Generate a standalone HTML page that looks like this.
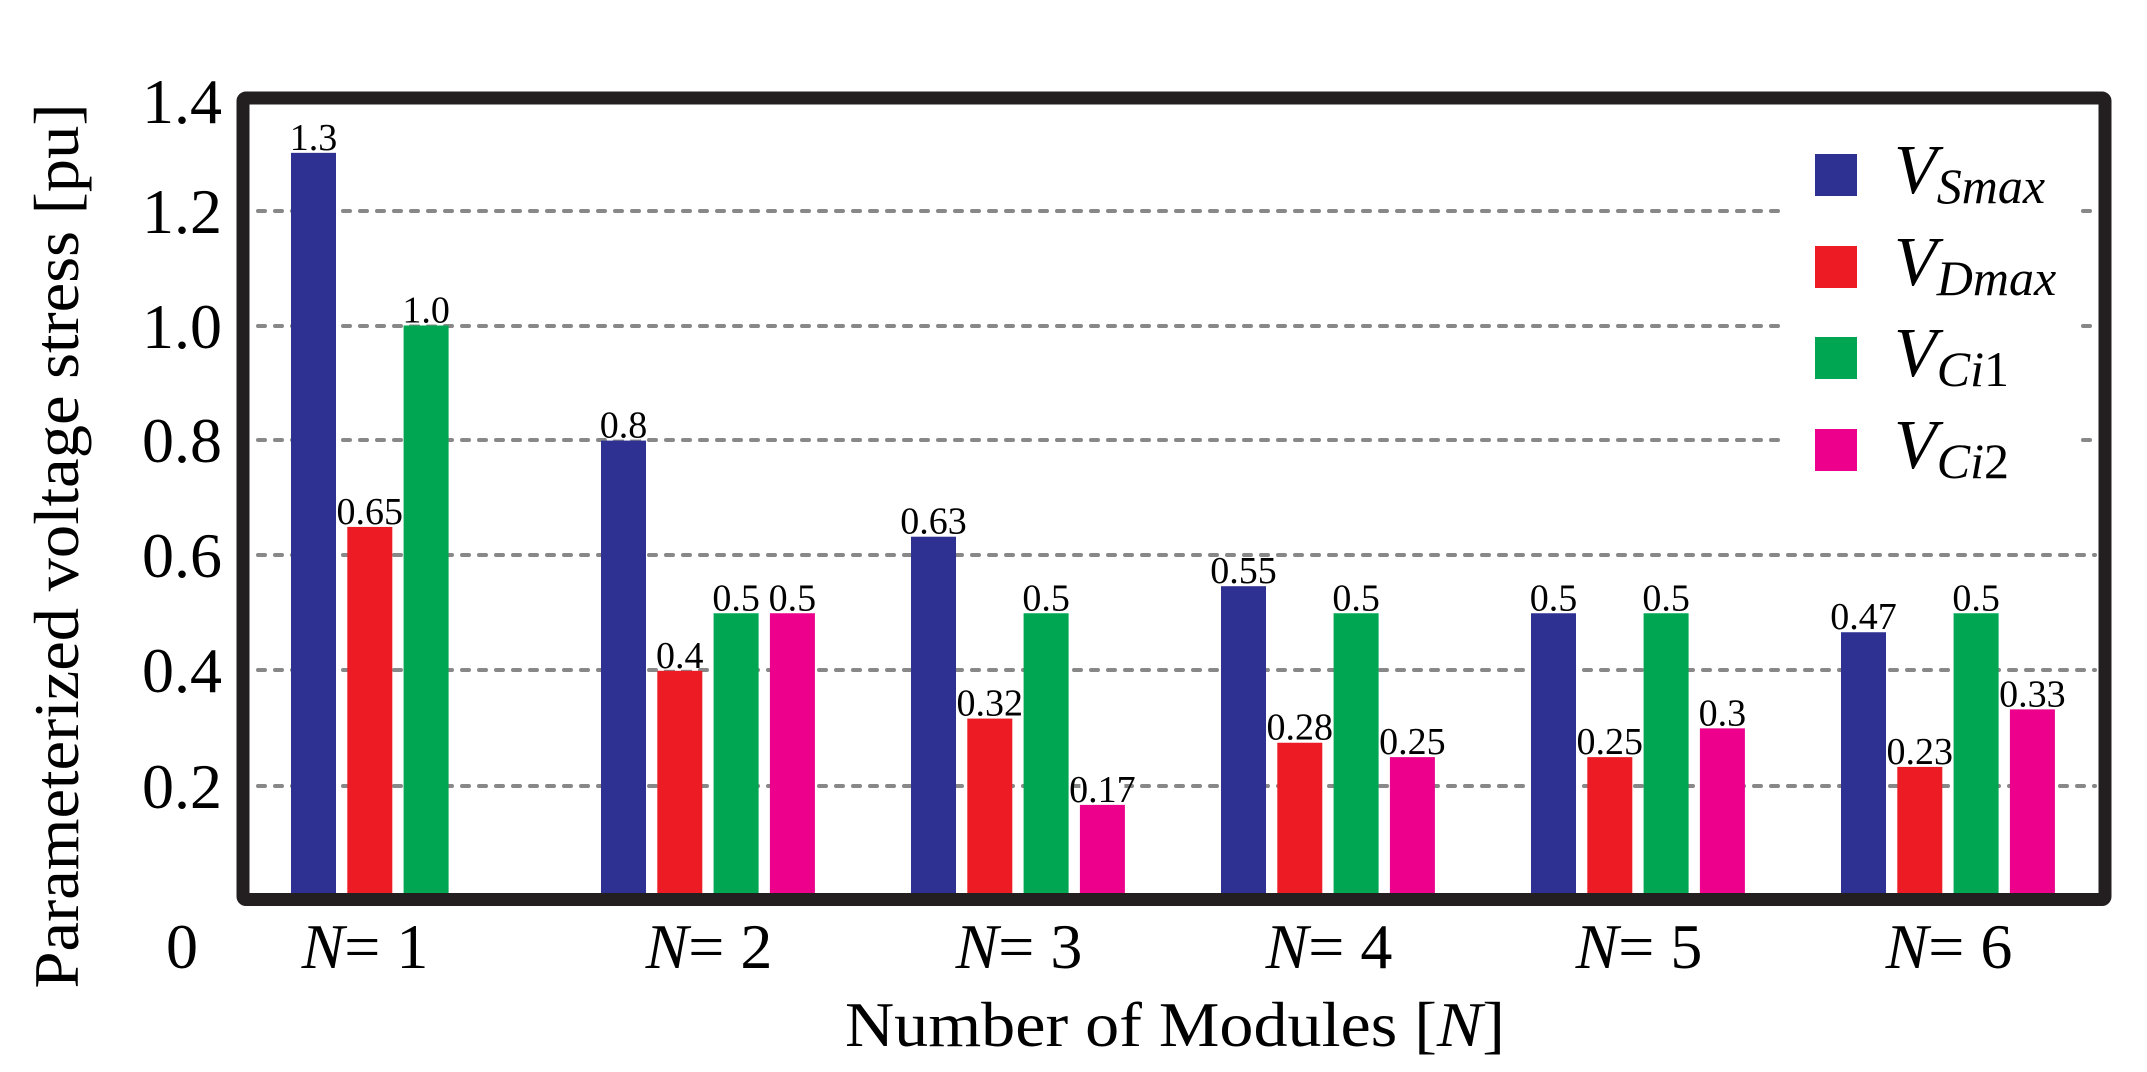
<!DOCTYPE html>
<html><head><meta charset="utf-8"><style>html,body{margin:0;padding:0;background:#fff}svg{display:block}</style></head>
<body>
<svg width="2147" height="1072" viewBox="0 0 2147 1072" xmlns="http://www.w3.org/2000/svg" font-family="Liberation Serif, serif">
<rect width="2147" height="1072" fill="#fff"/>
<g stroke="#888" stroke-width="4" stroke-dasharray="7 10" stroke-linecap="round">
<line x1="258" y1="786" x2="2095" y2="786"/>
<line x1="258" y1="670" x2="2095" y2="670"/>
<line x1="258" y1="555" x2="2095" y2="555"/>
<line x1="258" y1="440" x2="1788" y2="440"/><line x1="2083" y1="440" x2="2095" y2="440"/>
<line x1="258" y1="326" x2="1788" y2="326"/><line x1="2083" y1="326" x2="2095" y2="326"/>
<line x1="258" y1="211" x2="1788" y2="211"/><line x1="2083" y1="211" x2="2095" y2="211"/>
</g>
<g id="bars"></g>
<g font-size="38" text-anchor="middle" id="vl"></g>
<rect x="243" y="98" width="1862" height="801.5" fill="none" stroke="#231F20" stroke-width="13" rx="3"/>
<g font-size="64" text-anchor="end">
<text x="222" y="123">1.4</text><text x="222" y="233">1.2</text><text x="222" y="348">1.0</text>
<text x="222" y="462">0.8</text><text x="222" y="577">0.6</text><text x="222" y="692">0.4</text><text x="222" y="808">0.2</text>
</g>
<text x="182" y="968" font-size="64" text-anchor="middle">0</text>
<g font-size="64" text-anchor="middle">
<text x="365" y="968"><tspan font-style="italic">N</tspan>= 1</text>
<text x="709" y="968"><tspan font-style="italic">N</tspan>= 2</text>
<text x="1019" y="968"><tspan font-style="italic">N</tspan>= 3</text>
<text x="1329" y="968"><tspan font-style="italic">N</tspan>= 4</text>
<text x="1639" y="968"><tspan font-style="italic">N</tspan>= 5</text>
<text x="1949" y="968"><tspan font-style="italic">N</tspan>= 6</text>
</g>
<text x="1175" y="1046" font-size="64" text-anchor="middle" textLength="660" lengthAdjust="spacingAndGlyphs">Number of Modules [<tspan font-style="italic">N</tspan>]</text>
<text transform="translate(78,546) rotate(-90)" font-size="64" text-anchor="middle" textLength="885" lengthAdjust="spacingAndGlyphs">Parameterized voltage stress [pu]</text>
<g>
<rect x="1815" y="154" width="42" height="42" fill="#2E3192"/>
<rect x="1815" y="246" width="42" height="42" fill="#ED1C24"/>
<rect x="1815" y="337" width="42" height="42" fill="#00A651"/>
<rect x="1815" y="429" width="42" height="42" fill="#EC008C"/>
<g font-style="italic" font-size="70">
<text x="1894" y="193">V<tspan font-size="50" dy="10">Smax</tspan></text>
<text x="1894" y="285">V<tspan font-size="50" dy="10">Dmax</tspan></text>
<text x="1894" y="376">V<tspan font-size="50" dy="10">Ci</tspan><tspan font-size="50" font-style="normal">1</tspan></text>
<text x="1894" y="468">V<tspan font-size="50" dy="10">Ci</tspan><tspan font-size="50" font-style="normal">2</tspan></text>
</g>
</g>
<script>
var data=[[1.3,0.65,1.0,null],[0.8,0.4,0.5,0.5],[0.633,0.317,0.5,0.167],[0.547,0.275,0.5,0.25],[0.5,0.25,0.5,0.3],[0.467,0.233,0.5,0.333]];
var labs=[["1.3","0.65","1.0",""],["0.8","0.4","0.5","0.5"],["0.63","0.32","0.5","0.17"],["0.55","0.28","0.5","0.25"],["0.5","0.25","0.5","0.3"],["0.47","0.23","0.5","0.33"]];
var cols=["#2E3192","#ED1C24","#00A651","#EC008C"];
var ns="http://www.w3.org/2000/svg";
var bg=document.getElementById("bars"),vl=document.getElementById("vl");
function y(v){return 901-575.5*v;}
for(var g=0;g<6;g++){
 var x0=291+310*g;
 for(var i=0;i<4;i++){
  var v=data[g][i]; if(v===null)continue;
  var x=x0+56.3*i;
  var r=document.createElementNS(ns,"rect");
  r.setAttribute("x",x);r.setAttribute("y",y(v));r.setAttribute("width",45);r.setAttribute("height",893-y(v));r.setAttribute("fill",cols[i]);
  bg.appendChild(r);
  var w=labs[g][i].length*10+4;
  var b=document.createElementNS(ns,"rect");
  b.setAttribute("x",x+22.5-w/2);b.setAttribute("y",y(v)-28);b.setAttribute("width",w);b.setAttribute("height",27);b.setAttribute("fill","#fff");
  vl.appendChild(b);
  var t=document.createElementNS(ns,"text");
  t.setAttribute("x",x+22.5);t.setAttribute("y",y(v)-3);t.textContent=labs[g][i];
  vl.appendChild(t);
 }
}
</script>
</svg>
</body></html>
